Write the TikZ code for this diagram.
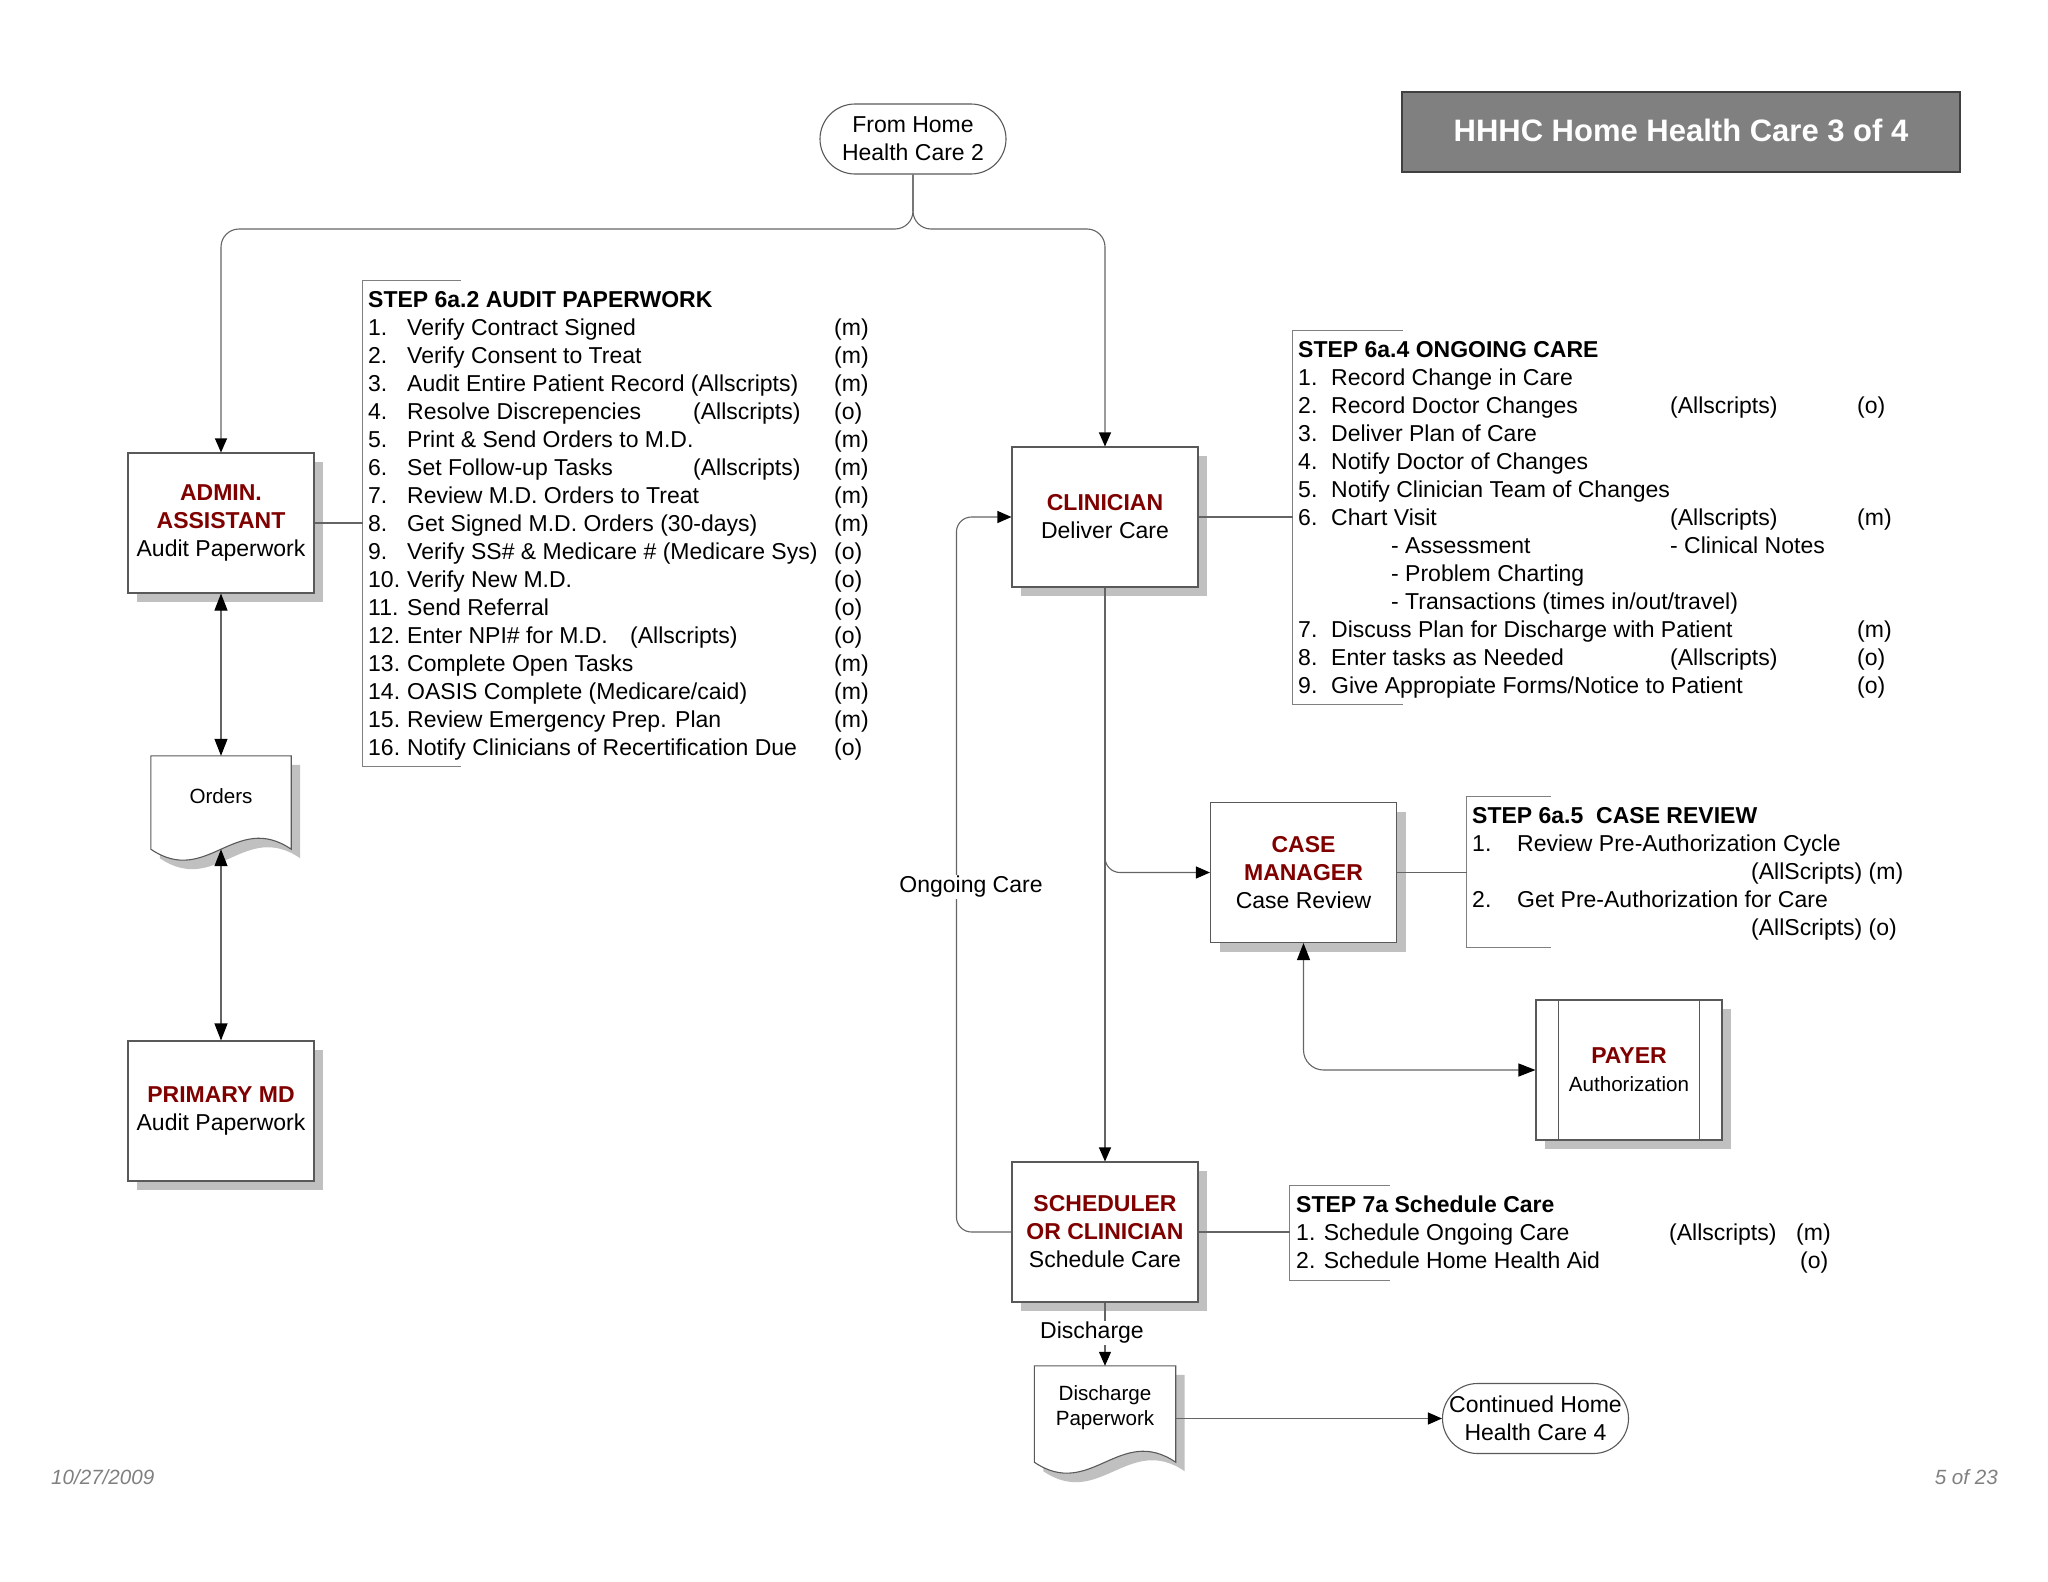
\documentclass[tikz,border=0pt]{standalone}
\usepackage{fontspec}
\setmainfont{Liberation Sans}
\usetikzlibrary{arrows.meta,shadows,calc}
\pgfdeclarelayer{background}
\pgfsetlayers{background,main}
\definecolor{rolered}{RGB}{128,0,0}
\definecolor{shadowgray}{RGB}{192,192,192}
\definecolor{linegray}{RGB}{100,100,100}
\definecolor{titlegray}{RGB}{128,128,128}
\newcommand\role[1]{\textcolor{rolered}{\bfseries #1}}
\newcommand\colbox[2]{\makebox[#1][l]{#2}}
\newcommand\drawdoc[2]{%
\begin{pgfonlayer}{background}
\fill[shadowgray] ([shift={(9,9)}]#1.north west) -- ([shift={(9,9)}]#1.north east) -- ([shift={(9,9+#2)}]#1.south east) .. controls +(-56,-38) and +(56,38) .. ([shift={(9,9+#2)}]#1.south west) -- cycle;
\draw[boxline,fill=white] (#1.north west) -- (#1.north east) -- ([shift={(0,#2)}]#1.south east) .. controls +(-56,-38) and +(56,38) .. ([shift={(0,#2)}]#1.south west) -- cycle;
\end{pgfonlayer}}
\begin{document}
\begin{tikzpicture}[x=1pt,y=-1pt,
  font=\fontsize{23}{28}\selectfont,
  >={Triangle[length=14pt,width=12pt,color=black]},
  conn/.style={draw=linegray,line width=1.1pt},
  boxline/.style={draw=black!65,line width=1.1pt},
  box/.style={boxline,fill=white,minimum width=186pt,minimum height=140pt,align=center,inner xsep=2pt,
    drop shadow={shadow xshift=9pt,shadow yshift=-9pt,fill=shadowgray,opacity=1}},
  term/.style={boxline,fill=white,rounded corners=35pt,minimum width=186pt,minimum height=70pt,align=center,inner xsep=2pt},
  brk/.style={draw=black!50,line width=1.1pt},
  listtxt/.style={anchor=north west,inner sep=0pt,align=left},
  small/.style={font=\fontsize{20.6}{25}\selectfont},
  dbl/.style={<->,>={Triangle[length=17pt,width=13pt,color=black]}},
  lbl/.style={fill=white,inner sep=1pt},
  foot/.style={font=\fontsize{20.6}{24}\selectfont\itshape,text=black!50,inner sep=0pt}]
\useasboundingbox (0,0) rectangle (2048,1582);

% terminals and title
\node[term] (from) at (913,139) {From Home\\Health Care 2};
\node[fill=titlegray,draw=black!75,line width=1.3pt,minimum width=558pt,minimum height=80pt,text=white,
  font=\fontsize{31}{37}\selectfont\bfseries] (title) at (1681,132) {\raisebox{3pt}{HHHC Home Health Care 3 of 4}};
\node[term] (cont) at (1535.5,1418.5) {Continued Home\\Health Care 4};

% process boxes
\node[box] (admin) at (221,523) {\role{ADMIN.}\\\role{ASSISTANT}\\Audit Paperwork};
\node[box] (pmd) at (221,1111) {\role{PRIMARY MD}\\Audit Paperwork};
\node[box] (clin) at (1105,517) {\role{CLINICIAN}\\Deliver Care};
\node[box] (cm) at (1303.5,872.5) {\role{CASE}\\\role{MANAGER}\\Case Review};
\node[box] (payer) at (1629,1070) {\role{PAYER}\\{\fontsize{20.6}{25}\selectfont Authorization}};
\draw[boxline] ([xshift=23pt]payer.north west) -- ([xshift=23pt]payer.south west);
\draw[boxline] ([xshift=-23pt]payer.north east) -- ([xshift=-23pt]payer.south east);
\node[box] (sched) at (1105,1232) {\role{SCHEDULER}\\\role{OR CLINICIAN}\\Schedule Care};

% documents
\node[small,minimum width=140pt,minimum height=80pt,inner sep=0pt] (orders) at (221,796) {Orders};
\drawdoc{orders}{13}
\node[small,minimum width=141pt,minimum height=84pt,inner sep=0pt,align=center] (dis) at (1105,1408) {Discharge\\Paperwork};
\drawdoc{dis}{12}

% brackets
\node[minimum width=98pt,minimum height=485pt,inner sep=0pt] (brA) at (412,523.5) {};
\node[minimum width=110pt,minimum height=373pt,inner sep=0pt] (brB) at (1348,517.5) {};
\node[minimum width=84pt,minimum height=150pt,inner sep=0pt] (brC) at (1509,872) {};
\node[minimum width=100pt,minimum height=94pt,inner sep=0pt] (brD) at (1340,1233) {};
\foreach \b in {brA,brB,brC,brD}
  \draw[brk] (\b.north east) -- (\b.north west) -- (\b.south west) -- (\b.south east);

% lists
\node[listtxt] (txtA) at (368,287.6) {%
\strut\textbf{STEP 6a.2 AUDIT PAPERWORK}\\
\strut\colbox{39pt}{1.}\colbox{427pt}{Verify Contract Signed}(m)\\
\strut\colbox{39pt}{2.}\colbox{427pt}{Verify Consent to Treat}(m)\\
\strut\colbox{39pt}{3.}\colbox{427pt}{Audit Entire Patient Record (Allscripts)}(m)\\
\strut\colbox{39pt}{4.}\colbox{286pt}{Resolve Discrepencies}\colbox{141pt}{(Allscripts)}(o)\\
\strut\colbox{39pt}{5.}\colbox{427pt}{Print \& Send Orders to M.D.}(m)\\
\strut\colbox{39pt}{6.}\colbox{286pt}{Set Follow-up Tasks}\colbox{141pt}{(Allscripts)}(m)\\
\strut\colbox{39pt}{7.}\colbox{427pt}{Review M.D. Orders to Treat}(m)\\
\strut\colbox{39pt}{8.}\colbox{427pt}{Get Signed M.D. Orders (30-days)}(m)\\
\strut\colbox{39pt}{9.}\colbox{427pt}{Verify SS\# \& Medicare \# (Medicare Sys)}(o)\\
\strut\colbox{39pt}{10.}\colbox{427pt}{Verify New M.D.}(o)\\
\strut\colbox{39pt}{11.}\colbox{427pt}{Send Referral}(o)\\
\strut\colbox{39pt}{12.}\colbox{223pt}{Enter NPI\# for M.D.}\colbox{204pt}{(Allscripts)}(o)\\
\strut\colbox{39pt}{13.}\colbox{427pt}{Complete Open Tasks}(m)\\
\strut\colbox{39pt}{14.}\colbox{427pt}{OASIS Complete (Medicare/caid)}(m)\\
\strut\colbox{39pt}{15.}\colbox{427pt}{Review Emergency Prep. Plan}(m)\\
\strut\colbox{39pt}{16.}\colbox{427pt}{Notify Clinicians of Recertification Due}(o)};

\node[listtxt] (txtB) at (1298,337.6) {%
\strut\textbf{STEP 6a.4 ONGOING CARE}\\
\strut\colbox{33pt}{1.}Record Change in Care\\
\strut\colbox{33pt}{2.}\colbox{339pt}{Record Doctor Changes}\colbox{187pt}{(Allscripts)}(o)\\
\strut\colbox{33pt}{3.}Deliver Plan of Care\\
\strut\colbox{33pt}{4.}Notify Doctor of Changes\\
\strut\colbox{33pt}{5.}Notify Clinician Team of Changes\\
\strut\colbox{33pt}{6.}\colbox{339pt}{Chart Visit}\colbox{187pt}{(Allscripts)}(m)\\
\strut\hspace*{93pt}\colbox{279pt}{- Assessment}- Clinical Notes\\
\strut\hspace*{93pt}- Problem Charting\\
\strut\hspace*{93pt}- Transactions (times in/out/travel)\\
\strut\colbox{33pt}{7.}\colbox{526pt}{Discuss Plan for Discharge with Patient}(m)\\
\strut\colbox{33pt}{8.}\colbox{339pt}{Enter tasks as Needed}\colbox{187pt}{(Allscripts)}(o)\\
\strut\colbox{33pt}{9.}\colbox{526pt}{Give Appropiate Forms/Notice to Patient}(o)};

\node[listtxt] (txtC) at (1472,803.6) {%
\strut\textbf{STEP 6a.5\ \ CASE REVIEW}\\
\strut\colbox{45pt}{1.}Review Pre-Authorization Cycle\\
\strut\hspace*{279pt}(AllScripts) (m)\\
\strut\colbox{45pt}{2.}Get Pre-Authorization for Care\\
\strut\hspace*{279pt}(AllScripts) (o)};

\node[listtxt] (txtD) at (1296,1192.6) {%
\strut\textbf{STEP 7a Schedule Care}\\
\strut\colbox{373pt}{1. Schedule Ongoing Care}\colbox{127pt}{(Allscripts)}(m)\\
\strut\colbox{504pt}{2. Schedule Home Health Aid}(o)};

% connectors
\coordinate (split) at (913,229);
\draw[conn,->,rounded corners=18pt] (from.south) -- (split) -| (admin.north);
\draw[conn,->,rounded corners=18pt] (from.south) -- (split) -| (clin.north);
\draw[conn,dbl] (admin.south) -- (orders.north);
\draw[conn,dbl] ([yshift=-13pt]orders.south) -- (pmd.north);
\draw[conn] (admin.east) -- (admin.east -| brA.west);
\draw[conn] (clin.east) -- (clin.east -| brB.west);
\draw[conn] (cm.east) -- (cm.east -| brC.west);
\draw[conn] (sched.east) -- (sched.east -| brD.west);
\draw[conn,->] (clin.south) -- (sched.north);
\draw[conn,->,rounded corners=15pt] (clin.south) |- (cm.west);
\draw[conn,dbl,rounded corners=20pt] (cm.south) |- (payer.west);
\draw[conn,->,rounded corners=15pt] (sched.west) -- ++(-55,0) |- (clin.west);
\node[lbl] (ongoing) at (971,887) {Ongoing Care};
\draw[conn,->] (sched.south) -- (dis.north);
\node[lbl] (dlabel) at (1092,1333) {Discharge};
\draw[conn,->] (cont.west -| dis.east) -- (cont.west);

% footer
\node[foot,anchor=west] (date) at (51,1477) {10/27/2009};
\node[foot,anchor=east] (pageno) at (1998,1477) {5 of 23};
\end{tikzpicture}
\end{document}
